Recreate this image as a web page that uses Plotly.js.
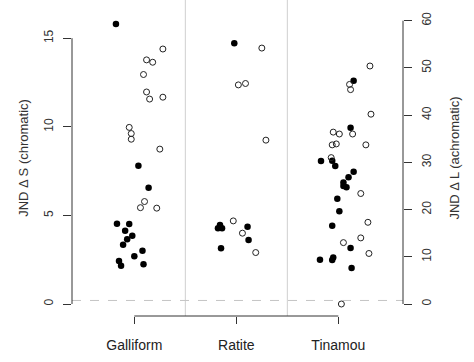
<!DOCTYPE html>
<html>
<head>
<meta charset="utf-8">
<script src="https://cdn.plot.ly/plotly-3.0.1.min.js"></script>
<style>html,body{margin:0;padding:0;background:#fff;}#chart{width:474px;height:362px;}</style>
</head>
<body>
<div id="chart"></div>
<script>
const categories = ['Galliform', 'Ratite', 'Tinamou'];
const leftTicks = [0, 5, 10, 15];
const rightTicks = [0, 10, 20, 30, 40, 50, 60];

// Chromatic (filled, left axis) — jittered x positions
const galliformChromX = [0.82, 1.04, 1.14, 0.83, 0.95, 0.91, 0.98, 0.93, 0.89, 1.08, 1.00, 0.85, 0.87, 1.09];
const galliformChromY = [15.8, 7.80, 6.56, 4.53, 4.51, 4.14, 3.85, 3.65, 3.35, 3.01, 2.69, 2.43, 2.16, 2.24];
const ratiteChromX = [1.98, 1.84, 1.82, 1.86, 2.11, 2.12, 1.85];
const ratiteChromY = [14.71, 4.46, 4.27, 4.27, 4.36, 3.61, 3.14];
const tinamouChromX = [3.15, 3.12, 2.83, 2.94, 2.97, 3.15, 3.10, 3.05, 3.05, 3.08, 2.99, 3.01, 2.94, 3.12, 2.82, 2.95, 2.94, 3.13];
const tinamouChromY = [12.60, 9.95, 8.07, 8.09, 7.79, 7.47, 7.15, 6.85, 6.66, 6.59, 5.94, 5.23, 4.42, 3.16, 2.50, 2.63, 2.48, 2.03];

// Achromatic (open, right axis)
const galliformAchX = [1.28, 1.12, 1.18, 1.09, 1.12, 1.15, 1.28, 0.95, 0.97, 0.97, 1.25, 1.10, 1.06, 1.22];
const galliformAchY = [54.0, 51.7, 51.2, 48.6, 44.9, 43.4, 43.8, 37.4, 36.1, 34.9, 32.8, 21.7, 20.4, 20.3];
const ratiteAchX = [2.25, 2.02, 2.09, 2.29, 1.97, 2.06, 2.19];
const ratiteAchY = [54.2, 46.4, 46.7, 34.7, 17.6, 15.0, 10.9];
const tinamouAchX = [3.31, 3.11, 3.12, 3.32, 2.95, 3.01, 3.14, 2.94, 2.98, 3.27, 2.93, 3.22, 3.29, 3.22, 3.05, 3.30, 3.03];
const tinamouAchY = [50.4, 46.5, 45.4, 40.2, 36.4, 36.0, 36.0, 33.7, 33.9, 33.7, 31.0, 23.4, 17.3, 14.0, 13.0, 10.7, 0];

const chromX = galliformChromX.concat(ratiteChromX, tinamouChromX);
const chromY = galliformChromY.concat(ratiteChromY, tinamouChromY);
const achX = galliformAchX.concat(ratiteAchX, tinamouAchX);
const achY = galliformAchY.concat(ratiteAchY, tinamouAchY);

const FONT = 'Liberation Sans, Arial, sans-serif';
const AX = '#333';

const traces = [
  {x: chromX, y: chromY, type: 'scatter', mode: 'markers', yaxis: 'y',
   marker: {symbol: 'circle', size: 6.5, color: '#000'}, hoverinfo: 'skip', showlegend: false},
  {x: achX, y: achY, type: 'scatter', mode: 'markers', yaxis: 'y2',
   marker: {symbol: 'circle-open', size: 6, color: '#222', line: {width: 1, color: '#222'}}, hoverinfo: 'skip', showlegend: false}
];

const layout = {
  width: 474, height: 362,
  margin: {l: 72, r: 71, t: 0, b: 46, pad: 0},
  paper_bgcolor: '#fff', plot_bgcolor: '#fff',
  font: {family: FONT, color: '#333', size: 12},
  showlegend: false,
  xaxis: {
    range: [0.389, 3.634], tickmode: 'array', tickvals: [1, 2, 3], ticktext: categories,
    ticks: 'outside', ticklen: 7, tickwidth: 1, tickcolor: AX, ticklabelstandoff: 9,
    showline: false, showgrid: false, zeroline: false,
    tickfont: {size: 14, color: '#222', family: FONT}
  },
  yaxis: {
    range: [-0.677, 17.156], tickmode: 'array', tickvals: leftTicks,
    ticks: 'outside', ticklen: 8, tickwidth: 1, tickcolor: AX, tickangle: -90, ticklabelstandoff: 5,
    showline: false, showgrid: false, zeroline: false,
    tickfont: {size: 12, color: '#333', family: FONT},
    title: {text: 'JND \u0394 S (chromatic)', font: {size: 13, color: '#333', family: FONT}, standoff: 10}
  },
  yaxis2: {
    overlaying: 'y', side: 'right',
    range: [-2.54, 64.38], tickmode: 'array', tickvals: rightTicks,
    ticks: 'outside', ticklen: 8, tickwidth: 1, tickcolor: AX, tickangle: -90, ticklabelstandoff: 5,
    showline: false, showgrid: false, zeroline: false,
    tickfont: {size: 12, color: '#333', family: FONT},
    title: {text: 'JND \u0394 L (achromatic)', font: {size: 13, color: '#333', family: FONT}, standoff: 16}
  },
  shapes: [
    // group separators
    {type: 'line', xref: 'x', yref: 'paper', x0: 1.5, x1: 1.5, y0: 0, y1: 1, line: {color: '#cfcfcf', width: 1}},
    {type: 'line', xref: 'x', yref: 'paper', x0: 2.5, x1: 2.5, y0: 0, y1: 1, line: {color: '#cfcfcf', width: 1}},
    // reference dashed line
    {type: 'line', xref: 'paper', yref: 'y', x0: 0, x1: 1, y0: 0.2, y1: 0.2, line: {color: '#c4c4c4', width: 1, dash: 'dash'}},
    // axis lines (R style, spanning tick range only)
    {type: 'line', xref: 'paper', yref: 'y', x0: 0, x1: 0, y0: 0, y1: 15, line: {color: AX, width: 1}},
    {type: 'line', xref: 'paper', yref: 'y2', x0: 1, x1: 1, y0: 0, y1: 60, line: {color: AX, width: 1}},
    {type: 'line', xref: 'x', yref: 'paper', x0: 1, x1: 3, y0: 0, y1: 0, line: {color: AX, width: 1}}
  ]
};

Plotly.newPlot('chart', traces, layout, {staticPlot: true, displayModeBar: false});
</script>
</body>
</html>
